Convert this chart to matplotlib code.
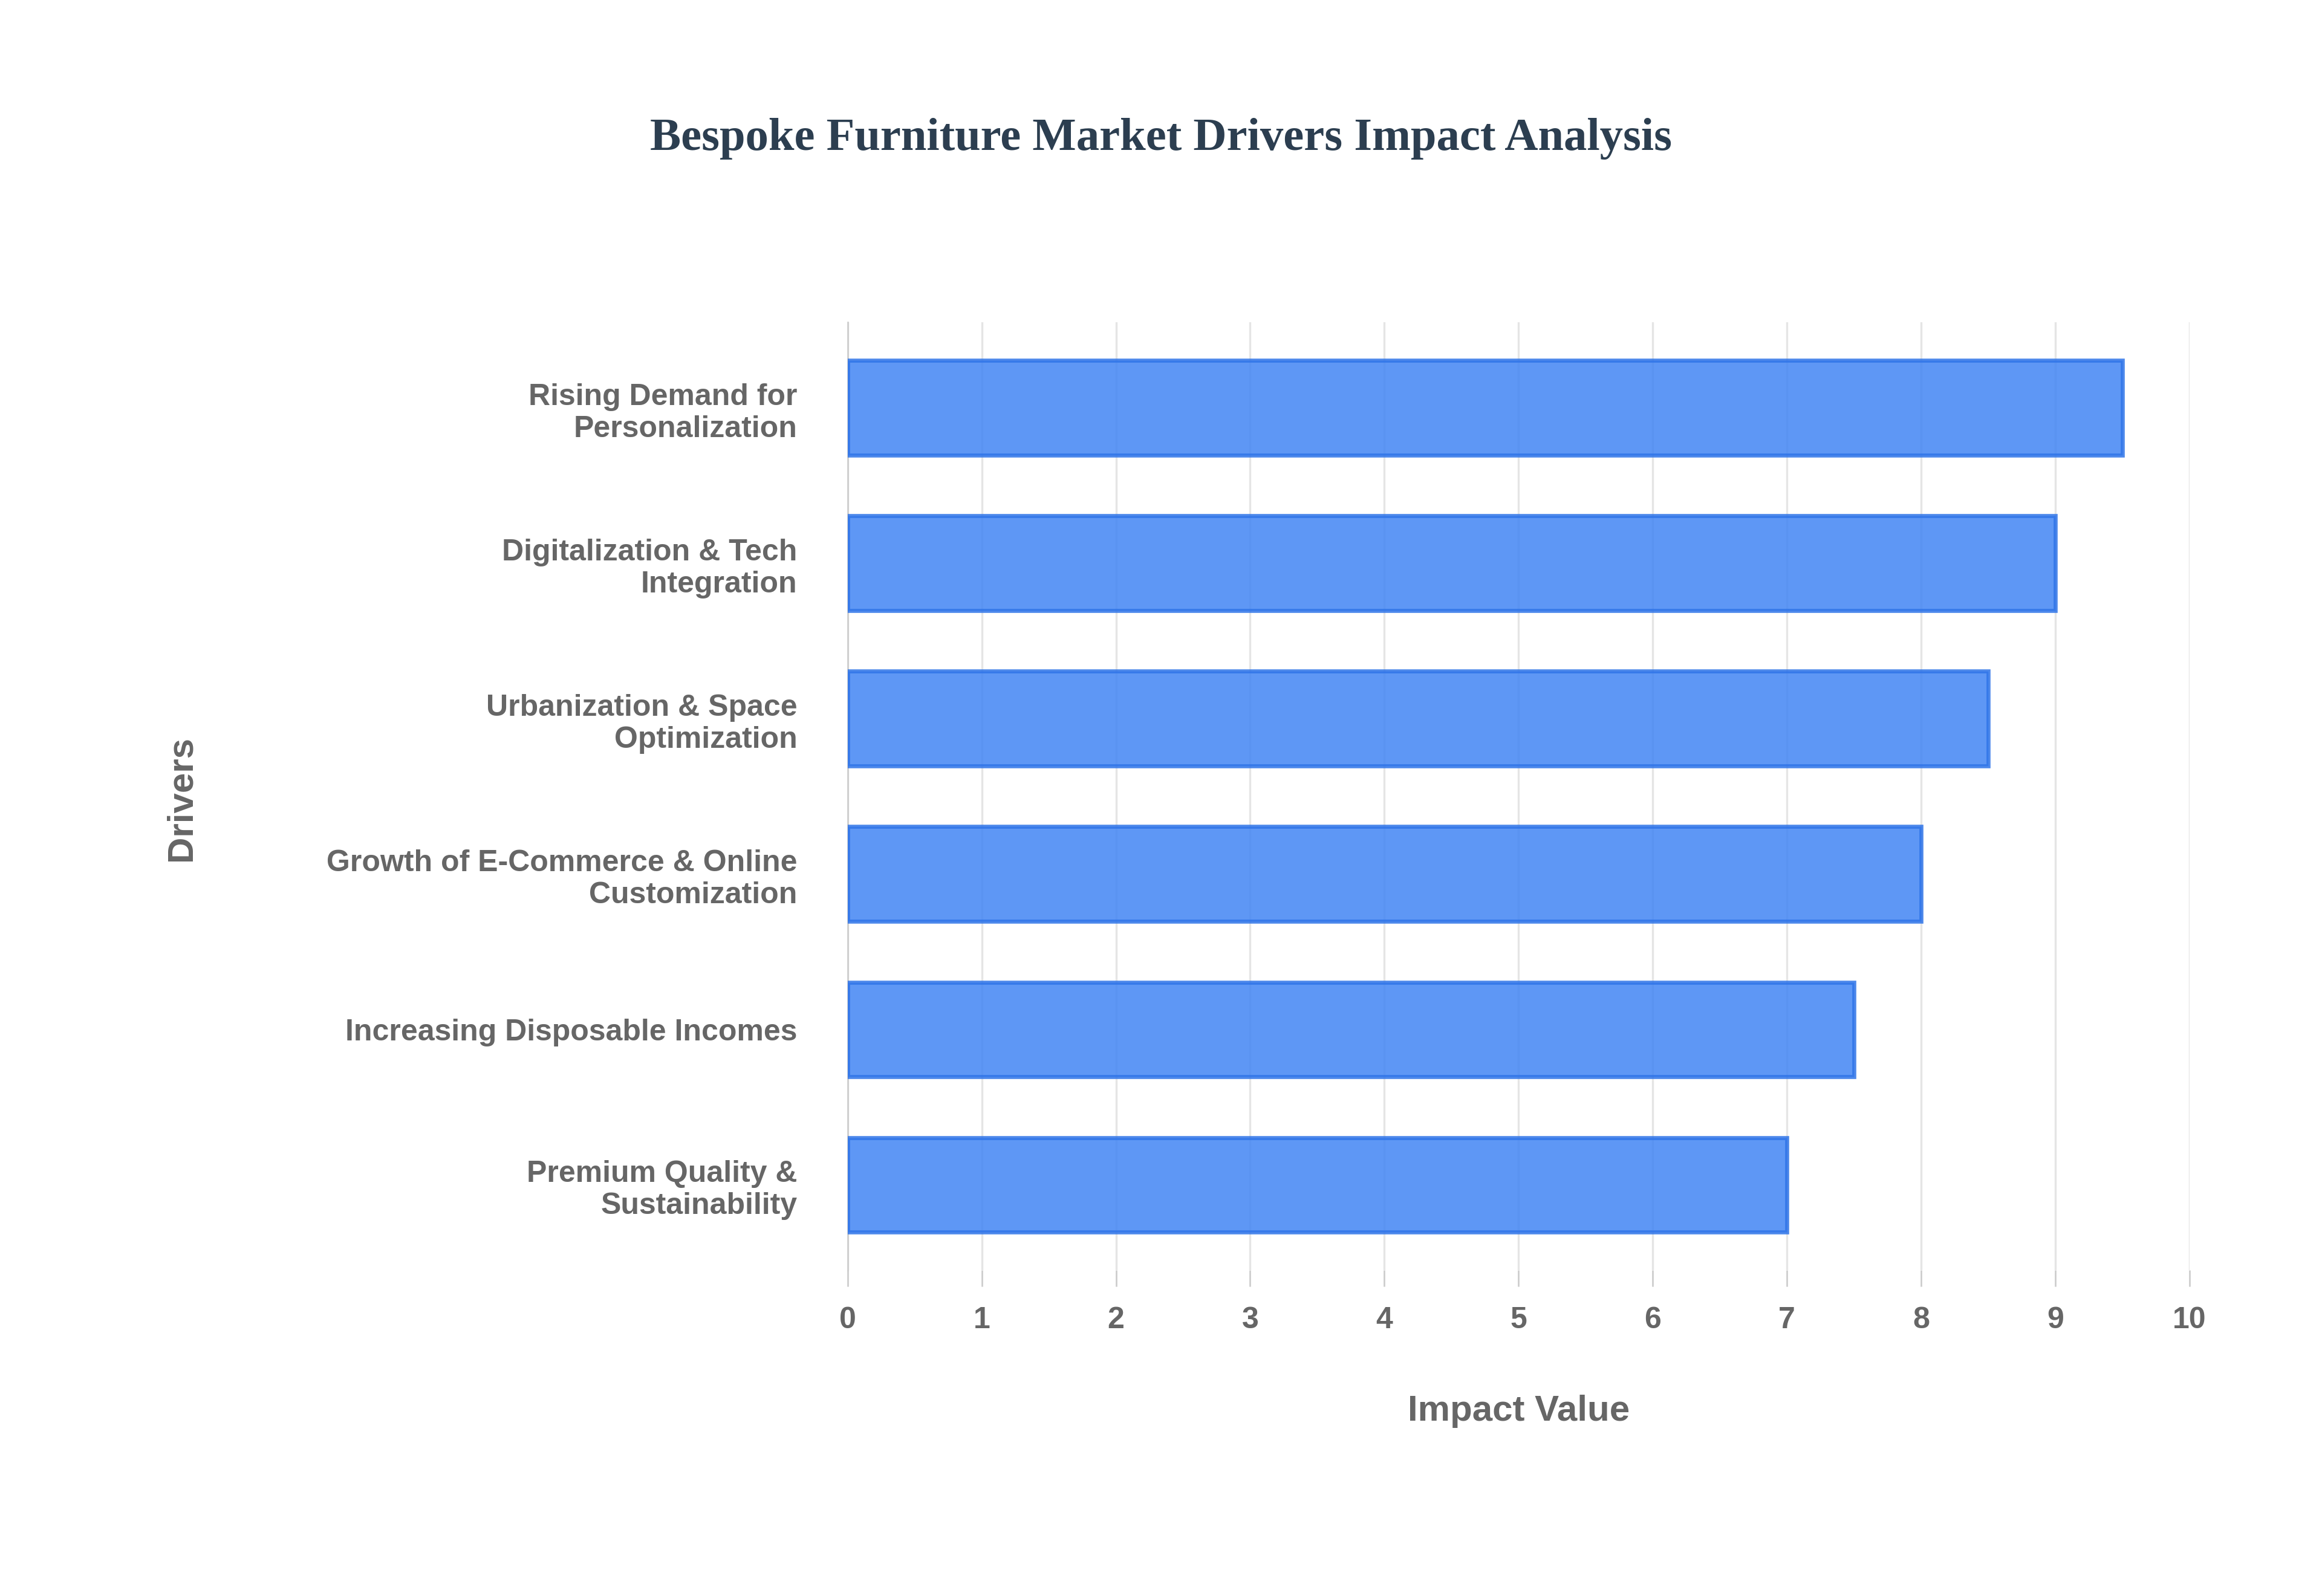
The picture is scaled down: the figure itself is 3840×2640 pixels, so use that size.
import matplotlib
matplotlib.use("Agg")
import matplotlib.pyplot as plt

drivers = ["Rising Demand for\nPersonalization", "Digitalization & Tech\nIntegration",
           "Urbanization & Space\nOptimization", "Growth of E-Commerce & Online\nCustomization",
           "Increasing Disposable Incomes", "Premium Quality &\nSustainability"]
values = [9.5, 9.0, 8.5, 8.0, 7.5, 7.0]

fig = plt.figure(figsize=(16, 11), dpi=240)
ax = fig.add_axes([0.365, 0.204, 0.578, 0.594])
y = list(range(len(drivers)))[::-1]
ax.barh(y, values, height=0.61, color="#4285F4", alpha=0.85, edgecolor="#2f74e8", linewidth=2, zorder=3)
ax.set_xlim(0, 10)
ax.set_ylim(-0.55, 5.55)
ax.set_xticks(range(11))
ax.set_yticks(y)
ax.set_yticklabels(drivers)
ax.grid(axis="x", color="#e5e5e5", linewidth=1, zorder=0)
for s in ["top", "right", "bottom"]:
    ax.spines[s].set_visible(False)
ax.spines["left"].set_color("#cccccc")
ax.tick_params(axis="y", length=0, pad=25)
ax.tick_params(axis="x", length=8, color="#cccccc", pad=10)
for lab in ax.get_xticklabels() + ax.get_yticklabels():
    lab.set_family("Liberation Sans"); lab.set_weight("bold"); lab.set_color("#666666"); lab.set_fontsize(15)
ax.set_xlabel("Impact Value", family="Liberation Sans", weight="bold", color="#666666", fontsize=18, labelpad=30)
fig.text(0.078, 0.5, "Drivers", rotation=90, va="center", ha="center",
         family="Liberation Sans", weight="bold", color="#666666", fontsize=18)
fig.text(0.5, 0.913, "Bespoke Furniture Market Drivers Impact Analysis", ha="center", va="center",
         family="Liberation Serif", weight="bold", color="#2c3e50", fontsize=23)
fig.savefig("out.png", dpi=240, facecolor="white")
